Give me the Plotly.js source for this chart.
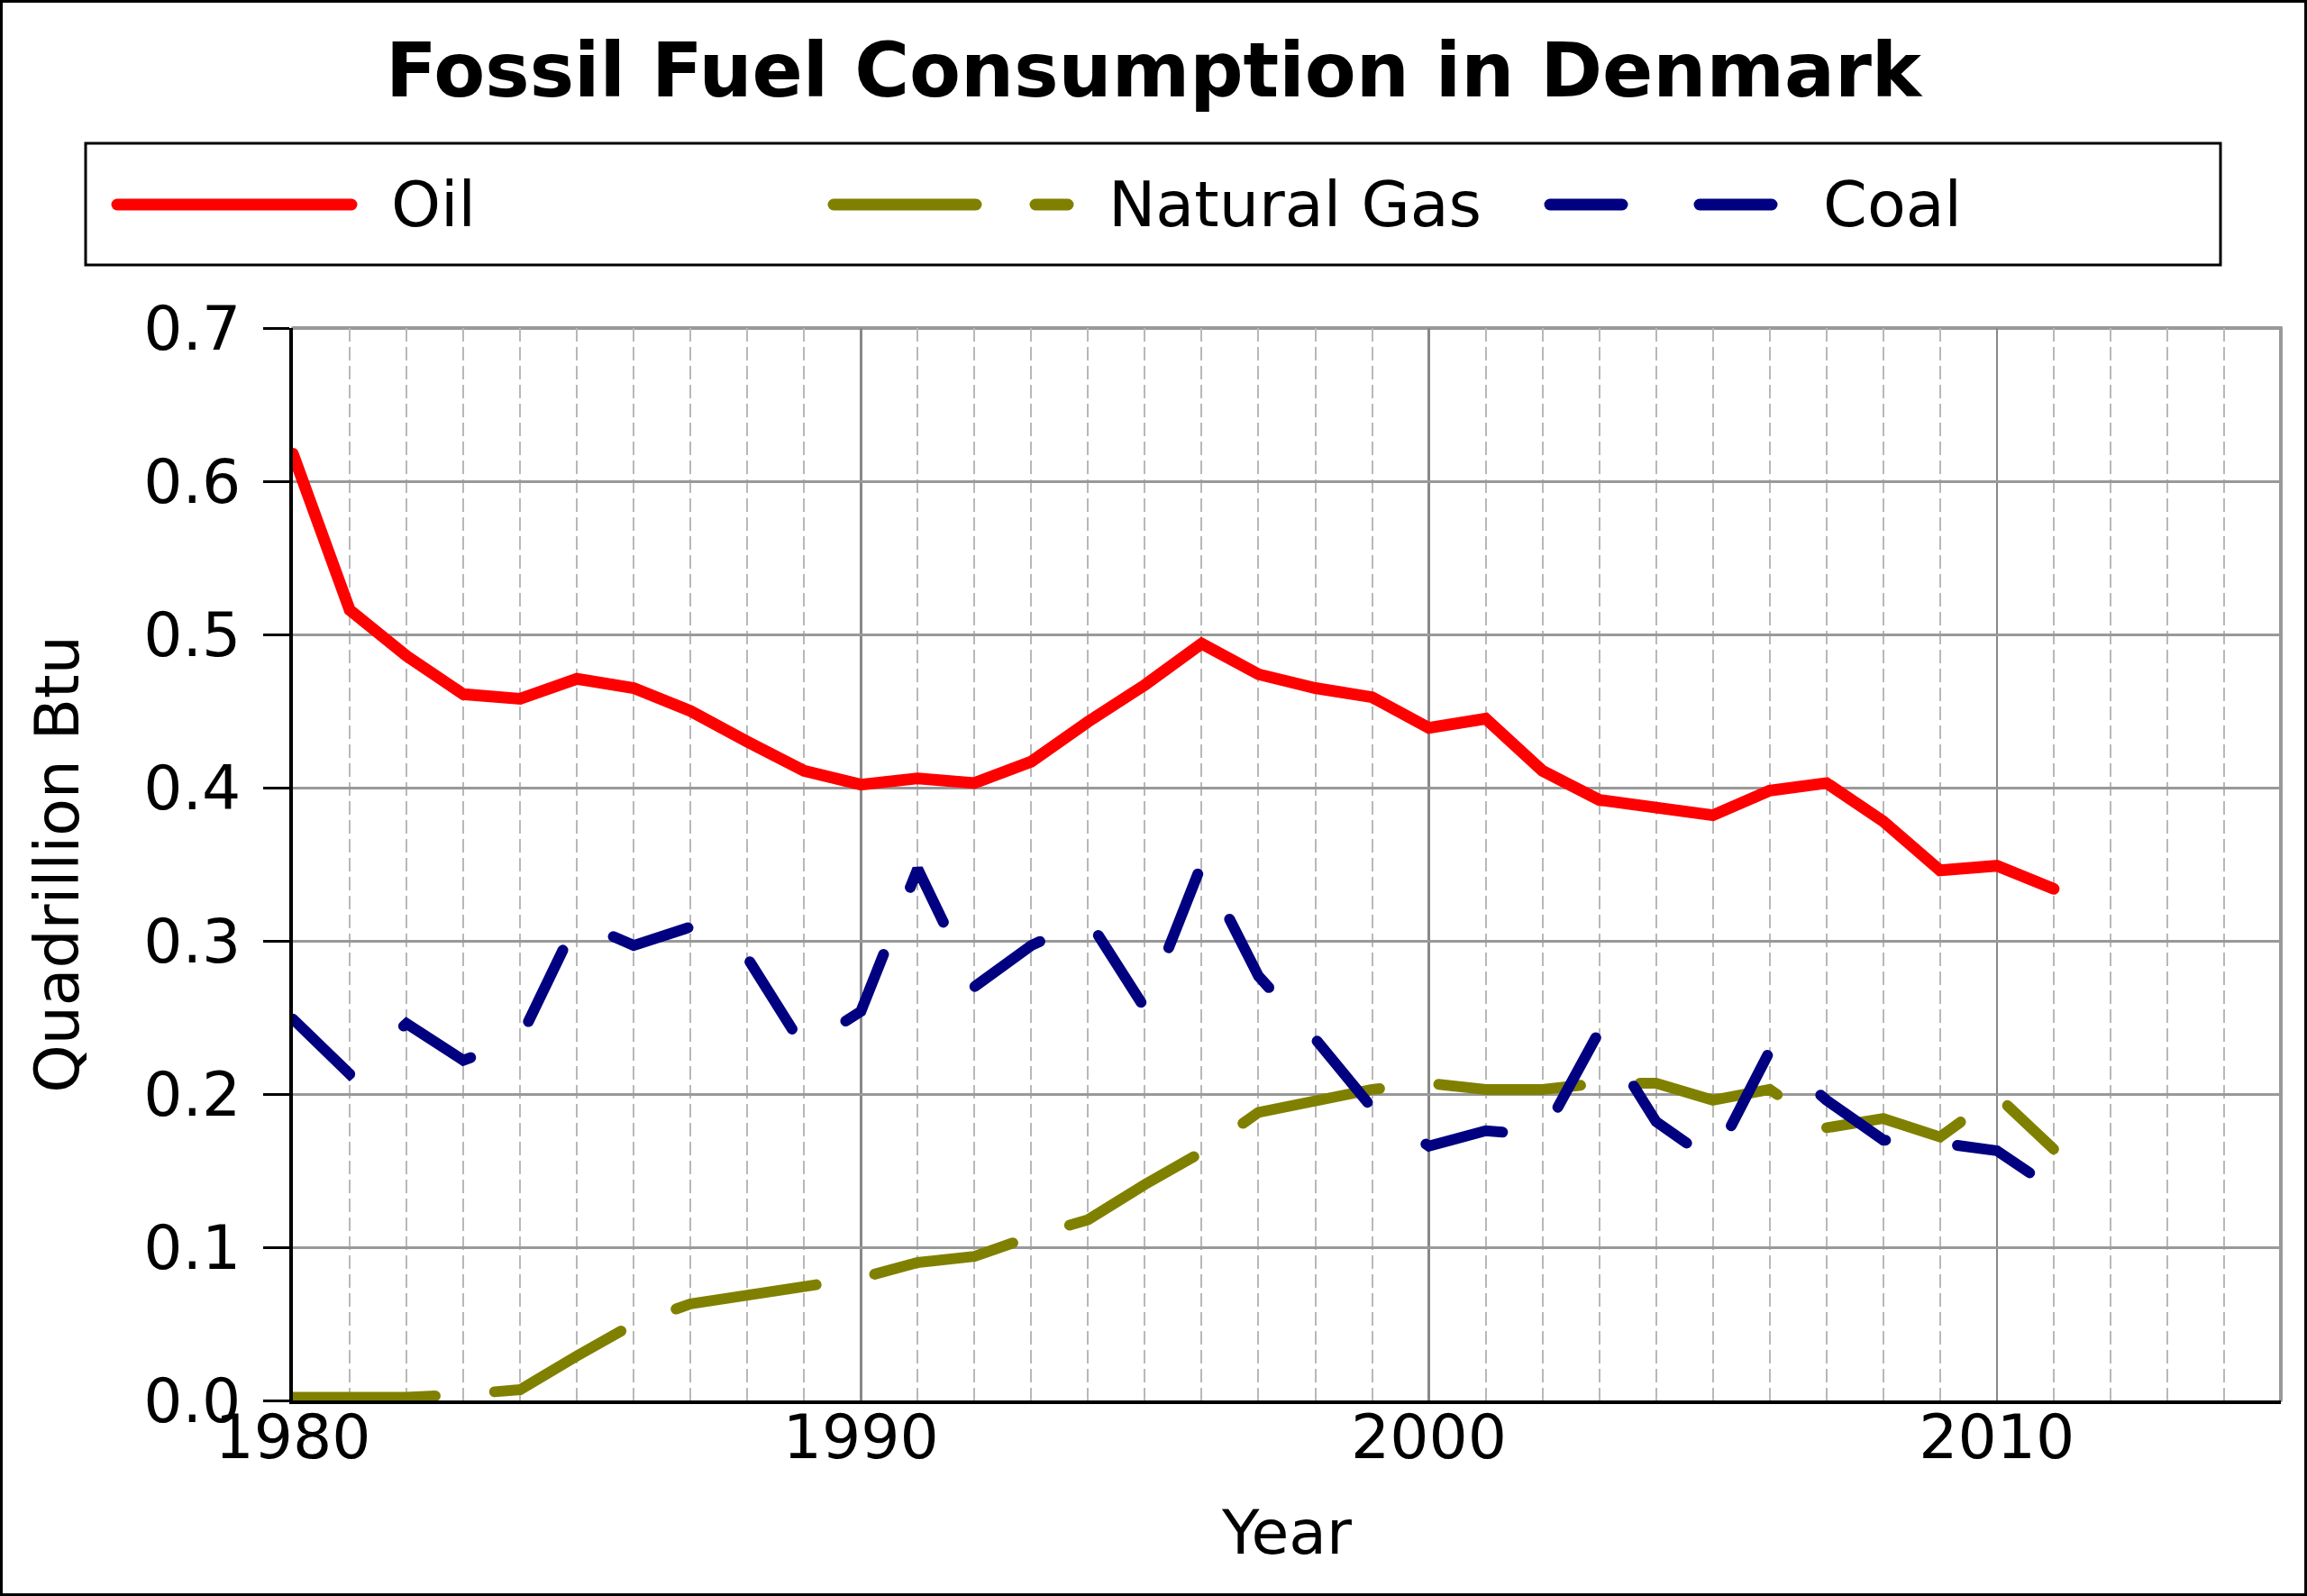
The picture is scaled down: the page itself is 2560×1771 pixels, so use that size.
<!DOCTYPE html>
<html>
<head>
<meta charset="utf-8">
<script src="https://cdn.plot.ly/plotly-3.0.1.min.js"></script>
<style>
  body { margin: 0; background: white; }
  #chart { width: 2560px; height: 1771px; }
  .js-line, .shapelayer path { stroke-linecap: round; }
</style>
</head>
<body>
<div id="chart"></div>
<script>
// data (quadrillion Btu)
var years = [1980, 1981, 1982, 1983, 1984, 1985, 1986, 1987, 1988, 1989,
             1990, 1991, 1992, 1993, 1994, 1995, 1996, 1997, 1998, 1999,
             2000, 2001, 2002, 2003, 2004, 2005, 2006, 2007, 2008, 2009,
             2010, 2011];

var oil = [0.618, 0.516, 0.486, 0.461, 0.458, 0.471, 0.465, 0.450, 0.430, 0.411,
           0.402, 0.406, 0.403, 0.417, 0.443, 0.467, 0.494, 0.474, 0.465, 0.459,
           0.439, 0.445, 0.411, 0.392, 0.387, 0.382, 0.398, 0.403, 0.378, 0.346,
           0.349, 0.334];

var gas = [0.002, 0.002, 0.002, 0.004, 0.007, 0.029, 0.050, 0.063, 0.069, 0.074,
           0.080, 0.090, 0.094, 0.107, 0.118, 0.141, 0.162, 0.188, 0.195, 0.203,
           0.207, 0.203, 0.203, 0.207, 0.207, 0.196, 0.203, 0.178, 0.184, 0.172,
           0.199, 0.164];

var coal = [0.249, 0.213, 0.246, 0.222, 0.236, 0.313, 0.297, 0.309, 0.289, 0.230,
            0.254, 0.347, 0.270, 0.297, 0.314, 0.256, 0.350, 0.277, 0.236, 0.191,
            0.166, 0.176, 0.173, 0.241, 0.182, 0.156, 0.228, 0.196, 0.170, 0.168,
            0.163, 0.138];

var seriesNames = ['Oil', 'Natural Gas', 'Coal'];
var yTicks = [0, 0.1, 0.2, 0.3, 0.4, 0.5, 0.6, 0.7];

var font = 'DejaVu Sans, Liberation Sans, sans-serif';
var colors = ['#ff0000', '#808000', '#000080'];
var widths = [13, 12, 12];
var dashes = ['solid', '158px,66px', '88px,80px'];

// plot area in page pixels, used to place the hand made legend
var L = 325, R = 2531, T = 364, B = 1554;
function px(x) { return (x - L) / (R - L); }
function py(y) { return (B - y) / (B - T); }

var data = [oil, gas, coal].map(function(vals, i) {
    return {
        x: years,
        y: vals,
        type: 'scatter',
        mode: 'lines',
        name: seriesNames[i],
        line: { color: colors[i], width: widths[i], dash: dashes[i] },
        hoverinfo: 'skip'
    };
});

// legend: box, sample lines and labels
var legendY = py(227);
var sampleStart = [130, 925, 1720];
var textStart = [432, 1228, 2021];
var sampleDash = ['solid', '158px,66px', '80px,86px'];

var shapes = [
    // outer border
    { type: 'rect', xref: 'paper', yref: 'paper',
      x0: px(1.5), x1: px(2558.5), y0: py(1769.5), y1: py(1.5),
      line: { color: 'black', width: 3 } },
    // legend box
    { type: 'rect', xref: 'paper', yref: 'paper',
      x0: px(95), x1: px(2464), y0: py(294), y1: py(159),
      line: { color: 'black', width: 3 } },
    // right and top frame of the plot
    { type: 'line', xref: 'paper', yref: 'paper', x0: 1, x1: 1, y0: 0, y1: 1,
      line: { color: '#999999', width: 4 }, layer: 'below' },
    { type: 'line', xref: 'paper', yref: 'paper', x0: 0, x1: 1, y0: 1, y1: 1,
      line: { color: '#999999', width: 4 }, layer: 'below' }
];

var annotations = [];
for (var i = 0; i < 3; i++) {
    shapes.push({
        type: 'line', xref: 'paper', yref: 'paper',
        x0: px(sampleStart[i]), x1: px(sampleStart[i] + 260),
        y0: legendY, y1: legendY,
        line: { color: colors[i], width: 13, dash: sampleDash[i] }
    });
    annotations.push({
        text: seriesNames[i],
        xref: 'paper', yref: 'paper',
        x: px(textStart[i]), y: legendY,
        xanchor: 'left', yanchor: 'middle',
        showarrow: false,
        font: { family: font, size: 70, color: 'black' }
    });
}

var layout = {
    width: 2560,
    height: 1771,
    paper_bgcolor: 'white',
    plot_bgcolor: 'white',
    showlegend: false,
    margin: { l: L, r: 2560 - R, t: T, b: 1771 - B, pad: 0 },
    title: {
        text: 'Fossil Fuel Consumption in Denmark',
        font: { family: font, size: 83, color: 'black', weight: 'bold' },
        x: 0.5, xref: 'container',
        y: 1 - 78 / 1771, yref: 'container', yanchor: 'middle'
    },
    xaxis: {
        range: [1980, 2015],
        tick0: 1980,
        dtick: 10,
        ticks: '',
        ticklabelstandoff: -22,
        showline: true,
        linecolor: 'black',
        linewidth: 4,
        zeroline: false,
        showgrid: true,
        gridcolor: '#888888',
        gridwidth: 2.5,
        minor: { dtick: 1, showgrid: true, gridcolor: '#b8b8b8', gridwidth: 2, griddash: '15px,6px', ticks: '' },
        tickfont: { family: font, size: 68, color: 'black' },
        title: { text: 'Year', font: { family: font, size: 68, color: 'black' }, standoff: 45 }
    },
    yaxis: {
        range: [0, 0.7],
        tickvals: yTicks,
        tickformat: '.1f',
        ticks: 'outside',
        ticklen: 29,
        tickwidth: 3,
        tickcolor: 'black',
        ticklabelstandoff: 11,
        showline: true,
        linecolor: 'black',
        linewidth: 4,
        zeroline: false,
        showgrid: true,
        gridcolor: '#999999',
        gridwidth: 3,
        tickfont: { family: font, size: 68, color: 'black' },
        title: { text: 'Quadrillion Btu', font: { family: font, size: 68, color: 'black' }, standoff: 50 }
    },
    shapes: shapes,
    annotations: annotations
};

Plotly.newPlot('chart', data, layout, { displayModeBar: false, staticPlot: true });
</script>
</body>
</html>
